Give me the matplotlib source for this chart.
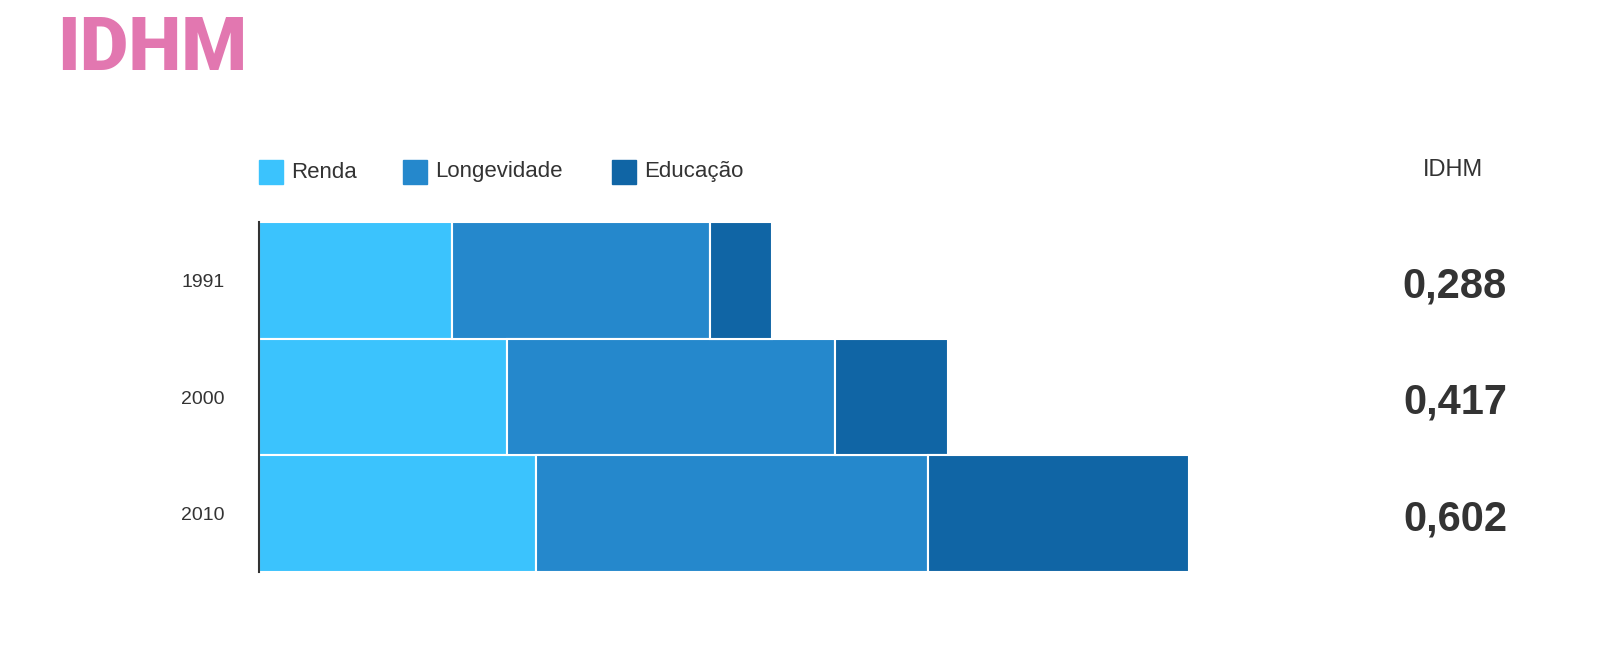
import matplotlib
matplotlib.use("Agg")
import matplotlib.pyplot as plt
from matplotlib.patches import Rectangle

plt.rcParams['font.family'] = ['Liberation Sans', 'DejaVu Sans']

years = ["1991", "2000", "2010"]
renda = [0.364, 0.468, 0.523]
longevidade = [0.487, 0.619, 0.740]
educacao = [0.117, 0.213, 0.491]
idhm_labels = ["0,288", "0,417", "0,602"]
series_names = ["Renda", "Longevidade", "Educação"]
colors = ["#3bc3fd", "#2588cc", "#1065a5"]

W, H = 1600, 671
fig = plt.figure(figsize=(16, 6.71), dpi=100)
ax = fig.add_axes([259 / W, 1 - 572 / H, 1000 / W, 350 / H])
ax.set_xlim(0, 1000 / 530)
ax.set_ylim(2.5, -0.5)
left = [0, 0, 0]
for vals, c in zip([renda, longevidade, educacao], colors):
    ax.barh(range(len(years)), vals, left=left, height=1.0, color=c,
            edgecolor="white", linewidth=1.5)
    left = [l + v for l, v in zip(left, vals)]
ax.set_yticks(range(len(years)))
ax.set_yticklabels(years, fontsize=14, color="#333333")
ax.tick_params(axis="y", length=0, pad=25)
ax.set_xticks([])
for s in ["top", "right", "bottom"]:
    ax.spines[s].set_visible(False)
ax.spines["left"].set_color("#333333")
ax.spines["left"].set_linewidth(1.5)

fig.text(57 / W, 1 - 50 / H, "IDHM", fontsize=54, fontweight="heavy",
         color="#e277b0", va="center", ha="left", fontstretch="condensed",
         family=["Roboto", "DejaVu Sans"])

lx = [259, 403, 612]
for x, name, c in zip(lx, series_names, colors):
    fig.patches.append(Rectangle((x / W, 1 - 184 / H), 24 / W, 24 / H,
                                 transform=fig.transFigure, color=c))
    fig.text((x + 32) / W, 1 - 172 / H, name, fontsize=16, color="#333333",
             va="center", ha="left")

fig.text(1453 / W, 1 - 170 / H, "IDHM", fontsize=17, color="#333333",
         ha="center", va="center")
tr = matplotlib.transforms.blended_transform_factory(fig.transFigure, ax.transData)
for i, lab in enumerate(idhm_labels):
    ax.text(1455 / W, i + 0.05, lab, transform=tr, fontsize=30,
            fontweight="bold", color="#333333", ha="center", va="center")

fig.savefig("out.png", dpi=100, facecolor="white")
